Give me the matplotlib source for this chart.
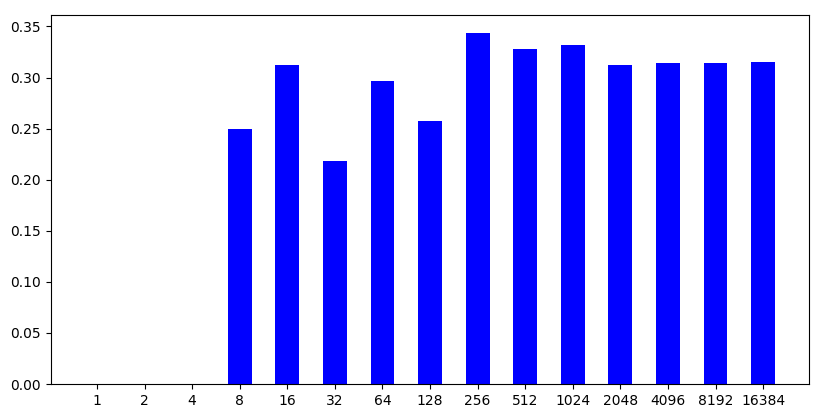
import matplotlib
matplotlib.use("Agg")
import matplotlib.pyplot as plt
import numpy as np

# problem sizes and the measured ratio for each
sizes = [1, 2, 4, 8, 16, 32, 64, 128, 256, 512, 1024, 2048, 4096, 8192, 16384]
ratio = [0.0, 0.0, 0.0, 0.25, 0.3125, 0.21875, 0.296875, 0.2578125, 0.34375,
         0.3284, 0.3323, 0.3125, 0.3138, 0.3138, 0.3148]

fig = plt.figure(figsize=(8.27, 4.16), dpi=100)
ax = fig.add_axes([0.0612, 0.0769, 0.9176, 0.8863])

x = np.arange(len(sizes))
ax.bar(x, ratio, 0.5, color='b')
ax.set_xticks(x)
ax.set_xticklabels([str(s) for s in sizes])

fig.savefig('out.png')
